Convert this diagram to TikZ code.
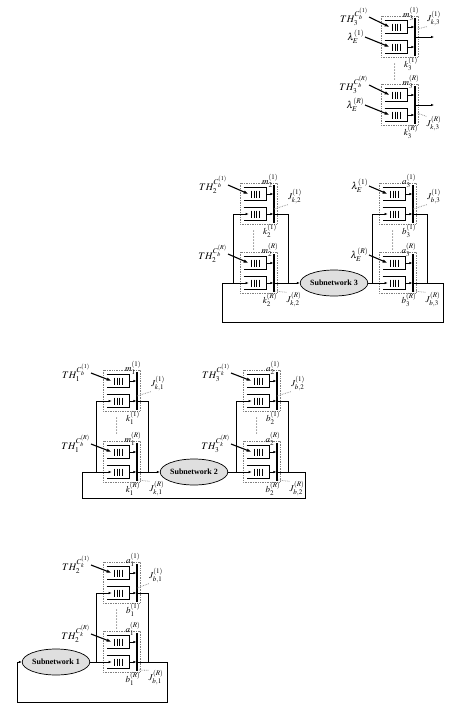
\documentclass[tikz,border=0pt]{standalone}
\usepackage{mathptmx}
\usepackage{fontspec}
\setmainfont{Liberation Serif}
\usetikzlibrary{arrows.meta}
\usetikzlibrary{calc}
\usetikzlibrary{shapes.geometric}

\tikzset{
    queue/.style={minimum width=22pt,minimum height=12pt,inner sep=0pt},
    server/.style={line width=2pt},
    box/.style={densely dotted,gray},
    lab/.style={font=\small,inner sep=0pt},
    inlab/.style={font=\normalsize,inner sep=0.5pt,anchor=east},
    lead/.style={densely dotted,gray},
    feed/.style={line width=1.1pt,-{Latex[length=5pt,width=3.5pt]}},
    subnet/.style={ellipse,draw,fill=gray!25,minimum width=58pt,minimum height=26pt,
        inner sep=0pt,font=\footnotesize\bfseries},
    dots/.style={line width=1pt,line cap=round,dash pattern=on 0pt off 3pt},
}

% two queues in front of one server bar
% #1 name, #2 x of the open ends, #3 y of the upper queue, #4 label over, #5 label under
\newcommand{\station}[5]{
    \foreach \q/\dy in {u/0,l/20}{
        \node[queue] (#1\q) at (#2+11,#3+\dy) {};
        \draw (#1\q.north west) -- (#1\q.north east) -- (#1\q.south east) -- (#1\q.south west);
        \foreach \i in {0,...,3}
            \draw ($(#1\q.west)+(8+2.5*\i,-3.5)$) -- +(0,7);
        \coordinate (#1\q-in) at ($(#1\q.west)+(5,0)$);
        \draw[->] (#1\q.east) -- +(7,0);
    }
    \coordinate (#1t) at (#2+30,#3-9);
    \coordinate (#1b) at (#2+30,#3+29);
    \coordinate (#1m) at (#2+30,#3+10);
    \coordinate (#1o) at (#2+30,#3+20);
    \draw[server] (#1t) -- (#1b);
    \draw[box] (#2-4,#3-11) rectangle (#2+33,#3+30);
    \node[lab] (#1top) at (#2+26,#3-13) {#4};
    \node[lab] (#1bot) at (#2+26,#3+37) {#5};
}

\begin{document}
\begin{tikzpicture}[x=1pt,y=-1pt,line width=0.7pt,>={Latex[length=3pt,width=2.5pt]}]
    \useasboundingbox (0,0) rectangle (474,710);

    % subnetwork 3, side k only
    \station{k31}{385}{27}{$m_3^{(1)}$}{$k_3^{(1)}$}
    \station{k3R}{385}{95}{$m_3^{(R)}$}{$k_3^{(R)}$}
    \draw[dots] ($(k31l.west)+(10,17)$) -- +(0,18);
    \node[inlab] (th31) at (369,17) {$TH_3^{C_b^{(1)}}$};
    \node[inlab] (la31) at (365,37) {$\lambda_E^{(1)}$};
    \node[inlab] (th3R) at (369,85) {$TH_3^{C_b^{(R)}}$};
    \node[inlab] (la3R) at (365,105) {$\lambda_E^{(R)}$};
    \draw[feed] (th31.east) -- (k31u-in);
    \draw[feed] (la31.east) -- (k31l-in);
    \draw[feed] (th3R.east) -- (k3Ru-in);
    \draw[feed] (la3R.east) -- (k3Rl-in);
    \coordinate (k3out) at (434,0);
    \draw[->] (k31m) -- (k31m -| k3out);
    \draw[->] (k3Rm) -- (k3Rm -| k3out);
    \node[lab] (Jk31) at (434,19) {$J_{k,3}^{(1)}$};
    \node[lab] (Jk3R) at (434,124) {$J_{k,3}^{(R)}$};
    \draw[lead] (Jk31.south west) -- ($(k31t)+(2,11)$);
    \draw[lead] (Jk3R.north west) -- ($(k3Rm)+(2,8)$);

    % subnetwork 3 between side k of 2 and side b of 3
    \station{k21}{244}{194}{$m_2^{(1)}$}{$k_2^{(1)}$}
    \station{k2R}{244}{263}{$m_2^{(R)}$}{$k_2^{(R)}$}
    \station{b31}{383}{194}{$a_3^{(1)}$}{$b_3^{(1)}$}
    \station{b3R}{383}{263}{$a_3^{(R)}$}{$b_3^{(R)}$}
    \draw[dots] ($(k21l.west)+(10,17)$) -- +(0,18);
    \draw[dots] ($(b31l.west)+(10,17)$) -- +(0,18);
    \node[inlab] (th21) at (228,185) {$TH_2^{C_b^{(1)}}$};
    \node[inlab] (th2R) at (228,254) {$TH_2^{C_b^{(R)}}$};
    \node[inlab] (la3b1) at (369,186) {$\lambda_E^{(1)}$};
    \node[inlab] (la3bR) at (369,255) {$\lambda_E^{(R)}$};
    \draw[feed] (th21.east) -- (k21u-in);
    \draw[feed] (th2R.east) -- (k2Ru-in);
    \draw[feed] (la3b1.east) -- (b31u-in);
    \draw[feed] (la3bR.east) -- (b3Ru-in);
    \node[lab] (Jk21) at (295,197) {$J_{k,2}^{(1)}$};
    \node[lab] (Jk2R) at (294,300) {$J_{k,2}^{(R)}$};
    \node[lab] (Jb31) at (434,197) {$J_{b,3}^{(1)}$};
    \node[lab] (Jb3R) at (433,300) {$J_{b,3}^{(R)}$};
    \draw[lead] (Jk21.south west) -- ($(k21m)!.5!(k21o)$);
    \draw[lead] (Jk2R.north west) -- ($(k2Rb)+(1,-1)$);
    \draw[lead] (Jb31.south west) -- ($(b31m)!.5!(b31o)$);
    \draw[lead] (Jb3R.north west) -- ($(b3Rb)+(1,-1)$);
    \node[subnet] (sub3) at (334,283) {Subnetwork 3};
    \coordinate (k2fork) at (233,283);
    \coordinate (k2join) at (288,283);
    \coordinate (b3fork) at (372,283);
    \coordinate (b3join) at (427,283);
    \coordinate (c3sw) at (222,322);
    \coordinate (c3se) at (443,322);
    \draw[->] (k2fork) |- (k21l-in);
    \draw (k21o) -| (k2join);
    \draw[->] (k2Ro) -- (sub3.west);
    \draw (sub3.east) -- (b3fork);
    \draw[->] (b3fork) |- (b31l-in);
    \draw[->] (b3fork) -- (b3Rl-in);
    \draw (b31o) -| (b3join);
    \draw[->] (b3Ro) -| (c3se) -- (c3sw) |- (k2Rl-in);

    % subnetwork 2 between side k of 1 and side b of 2
    \station{k11}{107}{381}{$m_1^{(1)}$}{$k_1^{(1)}$}
    \station{k1R}{107}{452}{$m_1^{(R)}$}{$k_1^{(R)}$}
    \station{b21}{247}{381}{$a_2^{(1)}$}{$b_2^{(1)}$}
    \station{b2R}{247}{452}{$a_2^{(R)}$}{$b_2^{(R)}$}
    \draw[dots] ($(k11l.west)+(10,17)$) -- +(0,18);
    \draw[dots] ($(b21l.west)+(10,17)$) -- +(0,18);
    \node[inlab] (th11) at (91,373) {$TH_1^{C_b^{(1)}}$};
    \node[inlab] (th1R) at (91,444) {$TH_1^{C_b^{(R)}}$};
    \node[inlab] (th2b1) at (231,373) {$TH_3^{C_k^{(1)}}$};
    \node[inlab] (th2bR) at (231,444) {$TH_3^{C_k^{(R)}}$};
    \draw[feed] (th11.east) -- (k11u-in);
    \draw[feed] (th1R.east) -- (k1Ru-in);
    \draw[feed] (th2b1.east) -- (b21u-in);
    \draw[feed] (th2bR.east) -- (b2Ru-in);
    \node[lab] (Jk11) at (158,384) {$J_{k,1}^{(1)}$};
    \node[lab] (Jk1R) at (157,489) {$J_{k,1}^{(R)}$};
    \node[lab] (Jb21) at (298,384) {$J_{b,2}^{(1)}$};
    \node[lab] (Jb2R) at (297,489) {$J_{b,2}^{(R)}$};
    \draw[lead] (Jk11.south west) -- ($(k11m)!.5!(k11o)$);
    \draw[lead] (Jk1R.north west) -- ($(k1Rb)+(1,-1)$);
    \draw[lead] (Jb21.south west) -- ($(b21m)!.5!(b21o)$);
    \draw[lead] (Jb2R.north west) -- ($(b2Rb)+(1,-1)$);
    \node[subnet] (sub2) at (194,472) {Subnetwork 2};
    \coordinate (k1fork) at (96,472);
    \coordinate (k1join) at (148,472);
    \coordinate (b2fork) at (236,472);
    \coordinate (b2join) at (288,472);
    \coordinate (c2sw) at (82,498);
    \coordinate (c2se) at (305,498);
    \draw[->] (k1fork) |- (k11l-in);
    \draw (k11o) -| (k1join);
    \draw[->] (k1Ro) -- (sub2.west);
    \draw (sub2.east) -- (b2fork);
    \draw[->] (b2fork) |- (b21l-in);
    \draw[->] (b2fork) -- (b2Rl-in);
    \draw (b21o) -| (b2join);
    \draw[->] (b2Ro) -| (c2se) -- (c2sw) |- (k1Rl-in);

    % subnetwork 1 and side b of 1
    \station{b11}{107}{573}{$a_1^{(1)}$}{$b_1^{(1)}$}
    \station{b1R}{107}{642}{$a_1^{(R)}$}{$b_1^{(R)}$}
    \draw[dots] ($(b11l.west)+(10,17)$) -- +(0,18);
    \node[inlab] (th1b1) at (91,565) {$TH_2^{C_k^{(1)}}$};
    \node[inlab] (th1bR) at (91,634) {$TH_2^{C_k^{(R)}}$};
    \draw[feed] (th1b1.east) -- (b11u-in);
    \draw[feed] (th1bR.east) -- (b1Ru-in);
    \node[lab] (Jb11) at (156,576) {$J_{b,1}^{(1)}$};
    \node[lab] (Jb1R) at (156,678) {$J_{b,1}^{(R)}$};
    \draw[lead] (Jb11.south west) -- ($(b11m)!.5!(b11o)$);
    \draw[lead] (Jb1R.north west) -- ($(b1Rb)+(1,-1)$);
    \node[subnet] (sub1) at (56,662) {Subnetwork 1};
    \coordinate (b1fork) at (96,662);
    \coordinate (b1join) at (148,662);
    \coordinate (c1sw) at (17,702);
    \coordinate (c1se) at (167,702);
    \draw (sub1.east) -- (b1fork);
    \draw[->] (b1fork) |- (b11l-in);
    \draw[->] (b1fork) -- (b1Rl-in);
    \draw (b11o) -| (b1join);
    \draw[->] (b1Ro) -| (c1se) -- (c1sw) |- (sub1.west);
\end{tikzpicture}
\end{document}
